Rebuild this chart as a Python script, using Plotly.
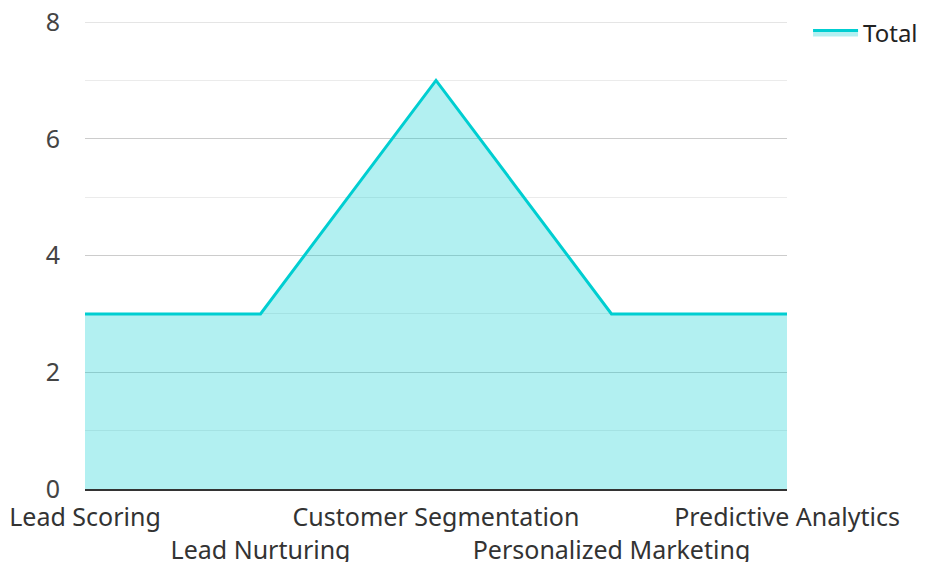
import plotly.graph_objects as go

categories = ["Lead Scoring", "Lead Nurturing", "Customer Segmentation", "Personalized Marketing", "Predictive Analytics"]
values = [3, 3, 7, 3, 3]
series_name = "Total"
y_ticks = [0, 2, 4, 6, 8]

tick_text = [c if i % 2 == 0 else "<br>" + c for i, c in enumerate(categories)]

fig = go.Figure()
fig.add_trace(go.Scatter(
    x=categories, y=values, name=series_name, mode="lines",
    fill="tozeroy", line=dict(color="#00CED1", width=3),
    fillcolor="rgba(0,206,209,0.3)",
))

# top major gridline (Plotly drops gridlines that sit exactly on the plot edge)
fig.add_shape(type="line", xref="paper", x0=0, x1=1, yref="y",
              y0=y_ticks[-1], y1=y_ticks[-1],
              line=dict(color="#cccccc", width=1), layer="below")

fig.update_layout(
    width=928, height=562,
    margin=dict(l=77, r=149, t=14, b=81, autoexpand=False),
    paper_bgcolor="white", plot_bgcolor="white",
    font=dict(family="Noto Sans", size=25, color="#333"),
    showlegend=True,
    legend=dict(x=1.03, y=1.025, xanchor="left", yanchor="top",
                font=dict(size=24, color="#222"), itemwidth=45),
    xaxis=dict(
        range=[0, 4], tickmode="array", tickvals=categories, ticktext=tick_text,
        tickangle=0, automargin=False, ticklabelstandoff=5,
        showgrid=False, showline=True, linecolor="#333", linewidth=2,
        ticks="", tickfont=dict(color="#333"), zeroline=False,
    ),
    yaxis=dict(
        range=[0, 8], tickvals=y_ticks, showgrid=True, gridcolor="#cccccc",
        gridwidth=1, zeroline=False, showline=False, ticks="", automargin=False,
        ticklabelstandoff=24, tickfont=dict(color="#444"), ticklabeloverflow="allow",
        minor=dict(dtick=1, showgrid=True, gridcolor="#ebebeb", gridwidth=1),
    ),
)

fig.write_html("out.html")
